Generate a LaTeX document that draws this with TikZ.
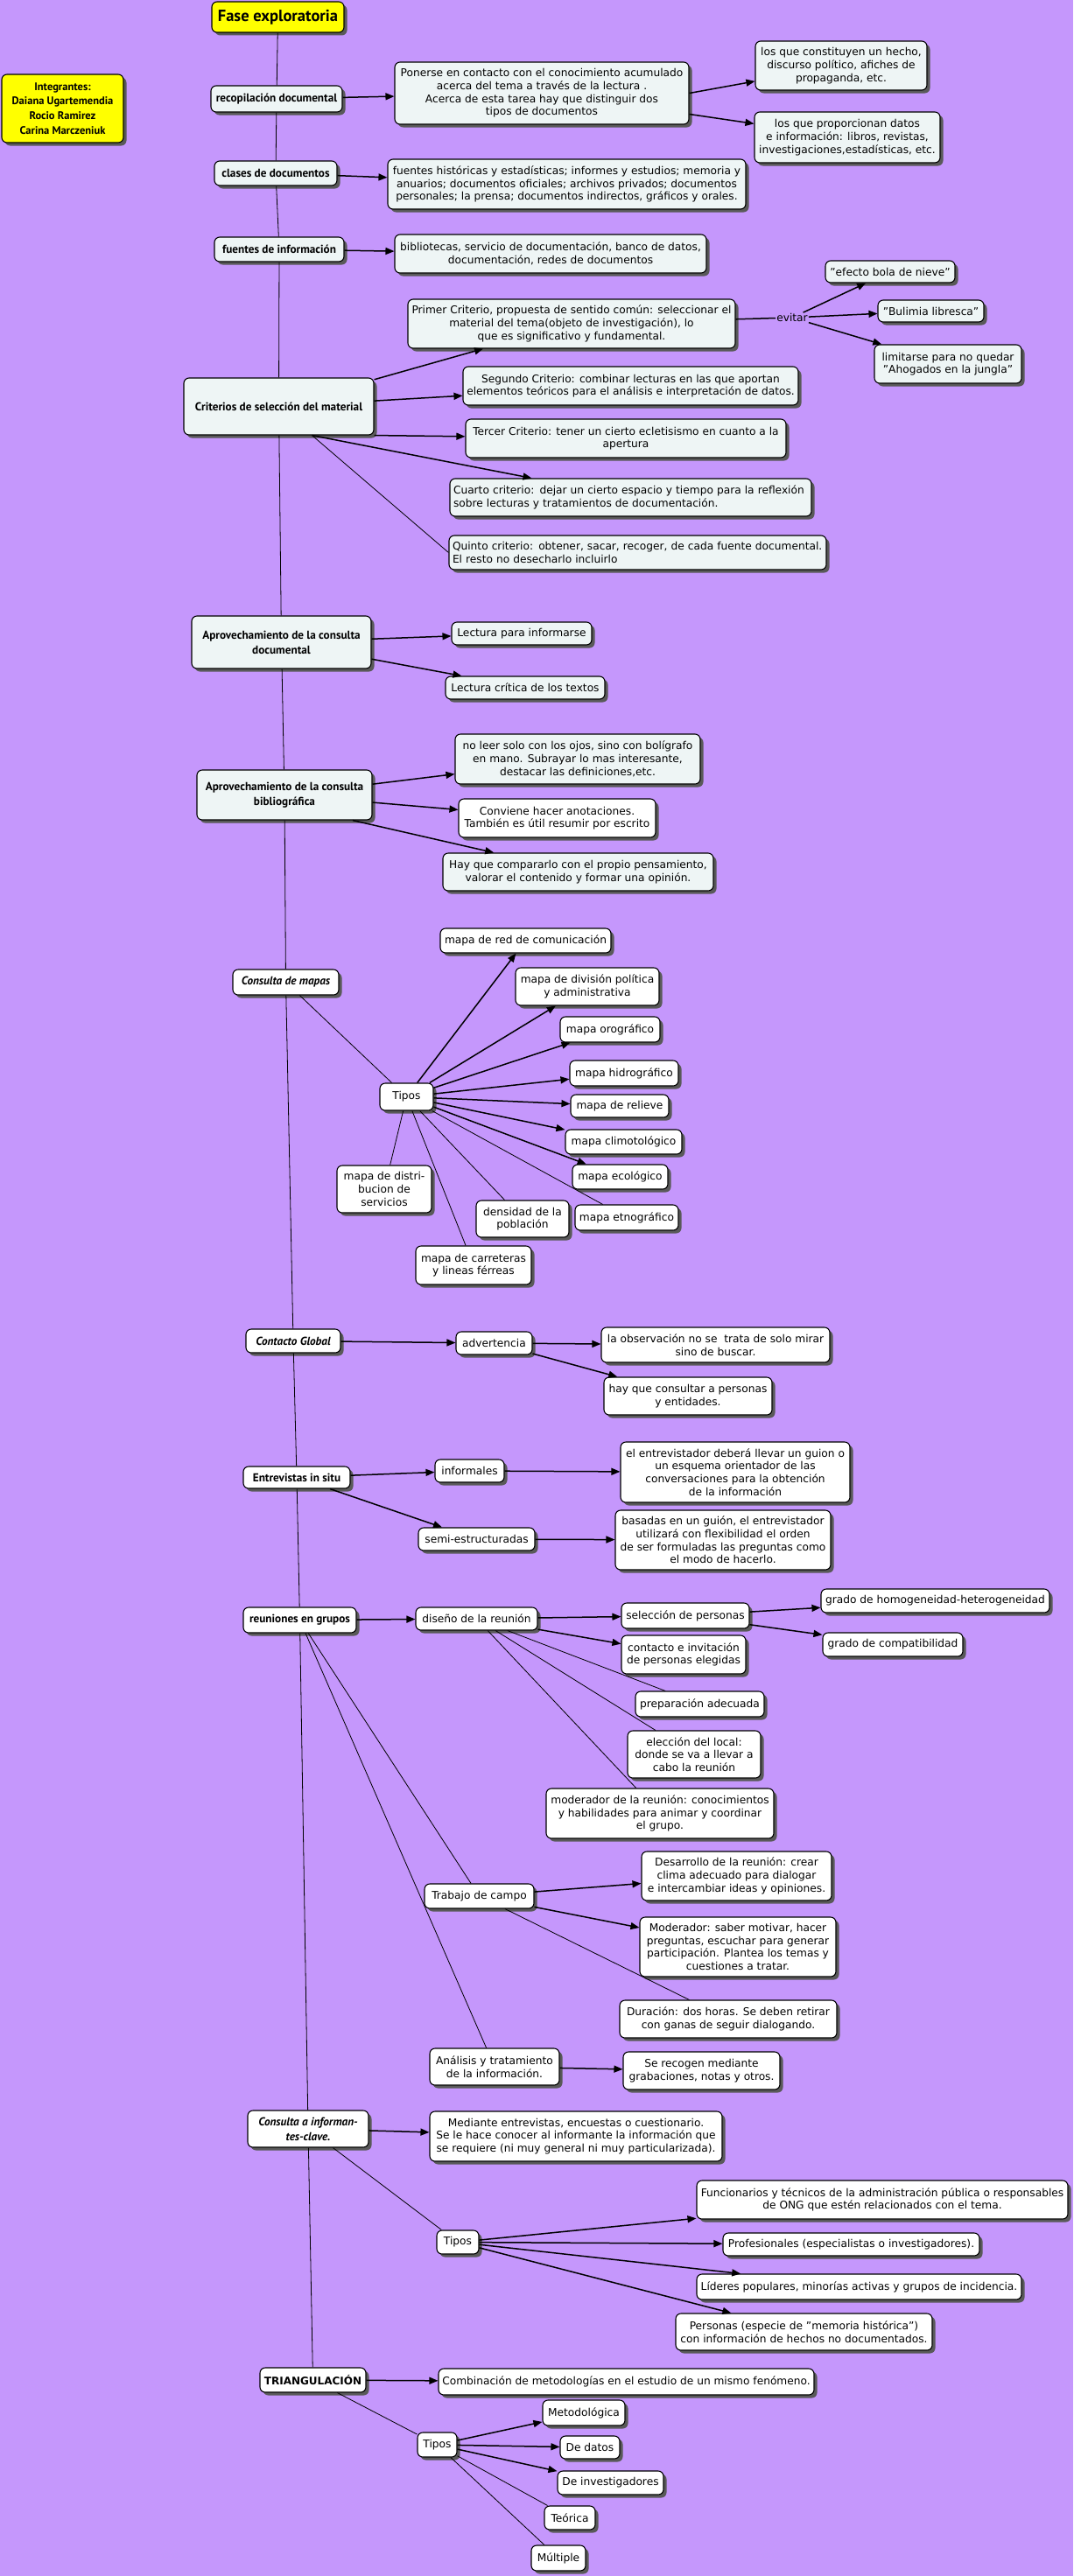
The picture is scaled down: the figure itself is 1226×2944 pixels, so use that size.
\documentclass[tikz,border=0pt]{standalone}
\usepackage{fontspec}
\setmainfont{DejaVu Sans}
\newfontfamily\hdrfont{PT Sans}
\usetikzlibrary{arrows.meta,shadows}
\definecolor{bg}{RGB}{197,151,252}
\definecolor{pale}{RGB}{238,245,245}
\definecolor{yel}{RGB}{255,255,0}
\tikzset{
 base/.style={draw=black, line width=1.1pt, rounded corners=6pt, align=center, inner sep=2pt,
   drop shadow={shadow xshift=3.5pt, shadow yshift=-3.5pt, fill=black!65, opacity=1}},
 bodyf/.style={font=\fontsize{12.2}{14.7}\selectfont},
 cb/.style={base, fill=pale, bodyf},
 cw/.style={base, fill=white, bodyf},
 hb/.style={base, fill=pale, font=\hdrfont\bfseries\fontsize{13.2}{17}\selectfont},
 hw/.style={base, fill=white, font=\hdrfont\bfseries\fontsize{13.2}{17}\selectfont},
 hwi/.style={base, fill=white, font=\hdrfont\bfseries\itshape\fontsize{13.2}{17}\selectfont},
 sz/.style 2 args={minimum width=#1pt, minimum height=#2pt},
 arr/.style={draw=black, line width=1.5pt, -{Triangle[length=10pt,width=8pt]}},
 ln/.style={draw=black, line width=0.8pt},
 lnb/.style={draw=black, line width=1.5pt},
}
\begin{document}
\begin{tikzpicture}[x=1pt,y=-1pt]
\fill[bg] (0,0) rectangle (1226,2944);
\useasboundingbox (0,0) rectangle (1226,2944);

% ---------- header ----------
\node[base, fill=yel, sz={151}{35}, font=\hdrfont\bfseries\fontsize{18.5}{20}\selectfont] (fase) at (317.5,19.5) {Fase exploratoria};
\node[base, fill=yel, sz={139}{78}, font=\hdrfont\bfseries\fontsize{12.5}{16.7}\selectfont] (integ) at (71.5,124) {Integrantes:\\Daiana Ugartemendia\\Rocio Ramirez\\Carina Marczeniuk};

% ---------- recopilación ----------
\node[hb, sz={150}{30}] (recop) at (316,113) {recopilación documental};
\node[cb, sz={336}{71}] (ponerse) at (619,106.5) {Ponerse en contacto con el conocimiento acumulado\\acerca del tema a través de la lectura .\\Acerca de esta tarea hay que distinguir dos\\tipos de documentos};
\node[cb, sz={196}{56}] (constit) at (961,75) {los que constituyen un hecho,\\discurso político, afiches de\\propaganda, etc.};
\node[cb, sz={212}{58}] (proporc) at (968,157) {los que proporcionan datos\\e información: libros, revistas,\\investigaciones,estadísticas, etc.};
\node[hb, sz={140}{28}] (clases) at (315,198) {clases de documentos};
\node[cb, sz={409}{57}] (fhist) at (647.5,210.5) {fuentes históricas y estadísticas; informes y estudios; memoria y\\anuarios; documentos oficiales; archivos privados; documentos\\personales; la prensa; documentos indirectos, gráficos y orales.};
\node[hb, sz={148}{28}] (fuentes) at (319,285) {fuentes de información};
\node[cb, sz={356}{44}] (biblio) at (629,290) {bibliotecas, servicio de documentación, banco de datos,\\documentación, redes de documentos};

% ---------- criterios ----------
\node[hb, sz={217}{65}] (crit) at (318.5,464.5) {Criterios de selección del material};
\node[cb, sz={374}{56}] (primer) at (653,370) {Primer Criterio, propuesta de sentido común: seleccionar el\\material del tema(objeto de investigación), lo\\que es significativo y fundamental.};
\node[bodyf, inner sep=1pt] (evitar) at (905,363) {evitar};
\node[cb, sz={148}{25}] (efecto) at (1017,310.5) {"efecto bola de nieve"};
\node[cb, sz={121}{25}] (bulimia) at (1063.5,355.5) {"Bulimia libresca"};
\node[cb, sz={168}{44}] (limit) at (1083,416) {limitarse para no quedar\\"Ahogados en la jungla"};
\node[cb, sz={383}{44}] (segundo) at (720.5,441) {Segundo Criterio: combinar lecturas en las que aportan\\elementos teóricos para el análisis e interpretación de datos.};
\node[cb, sz={366}{44}] (tercer) at (715,501) {Tercer Criterio: tener un cierto ecletisismo en cuanto a la\\apertura};
\node[cb, sz={413}{43}, text width=405pt, align=left] (cuarto) at (720.5,568.5) {Cuarto criterio: dejar un cierto espacio y tiempo para la reflexión\\sobre lecturas y tratamientos de documentación.};
\node[cb, sz={431}{39}, text width=423pt, align=left] (quinto) at (728.5,631.5) {Quinto criterio: obtener, sacar, recoger, de cada fuente documental.\\El resto no desecharlo incluirlo};

% ---------- aprovechamiento ----------
\node[hb, sz={205}{60}] (adoc) at (321.5,734) {Aprovechamiento de la consulta\\documental};
\node[cb, sz={160}{26}] (lectinf) at (596,724) {Lectura para informarse};
\node[cb, sz={182}{26}] (lectcrit) at (600,786) {Lectura crítica de los textos};
\node[hb, sz={200}{57}] (abib) at (325,908.5) {Aprovechamiento de la consulta\\bibliográfica};
\node[cb, sz={280}{57}] (noleer) at (660,867.5) {no leer solo con los ojos, sino con bolígrafo\\en mano. Subrayar lo mas interesante,\\destacar las definiciones,etc.};
\node[cw, sz={225}{44}] (conviene) at (636.5,935) {Conviene hacer anotaciones.\\También es útil resumir por escrito};
\node[cb, sz={309}{43}] (hayque) at (660.5,996.5) {Hay que compararlo con el propio pensamiento,\\valorar el contenido y formar una opinión.};

% ---------- mapas ----------
\node[hwi, sz={121}{29}] (mapas) at (326.5,1122.5) {Consulta de mapas};
\node[cw, sz={61}{31}] (tipa) at (464.5,1253.5) {Tipos};
\node[cw, sz={195}{28}] (red) at (600.5,1075) {mapa de red de comunicación};
\node[cw, sz={164}{43}] (divis) at (671,1127.5) {mapa de división política\\y administrativa};
\node[cw, sz={114}{29}] (oro) at (697,1176.5) {mapa orográfico};
\node[cw, sz={124}{29}] (hidro) at (713,1226.5) {mapa hidrográfico};
\node[cw, sz={112}{26}] (relieve) at (708,1264) {mapa de relieve};
\node[cw, sz={133}{28}] (clima) at (712.5,1305) {mapa climotológico};
\node[cw, sz={109}{28}] (eco) at (708.5,1345) {mapa ecológico};
\node[cw, sz={118}{29}] (etno) at (716,1391.5) {mapa etnográfico};
\node[cw, sz={108}{54}] (distri) at (439,1359) {mapa de distri-\\bucion de\\servicios};
\node[cw, sz={106}{42}] (dens) at (597,1393) {densidad de la\\población};
\node[cw, sz={132}{44}] (carre) at (541,1446) {mapa de carreteras\\y lineas férreas};

% ---------- contacto / entrevistas ----------
\node[hwi, sz={108}{27}] (contacto) at (335,1532.5) {Contacto Global};
\node[cw, sz={87}{26}] (advert) at (564.5,1535) {advertencia};
\node[cw, sz={261}{40}] (observ) at (817.5,1537) {la observación no se\ \ trata de solo mirar\\sino de buscar.};
\node[cw, sz={192}{43}] (haycons) at (786,1595.5) {hay que consultar a personas\\y entidades.};
\node[hw, sz={122}{25}] (entrev) at (339,1688.5) {Entrevistas in situ};
\node[cw, sz={79}{26}] (inform) at (536.5,1681) {informales};
\node[cw, sz={262}{69}] (elentrev) at (840,1682.5) {el entrevistador deberá llevar un guion o\\un esquema orientador de las\\conversaciones para la obtención\\de la información};
\node[cw, sz={133}{26}] (semi) at (544.5,1759) {semi-estructuradas};
\node[cw, sz={246}{68}] (basadas) at (826,1760) {basadas en un guión, el entrevistador\\utilizará con flexibilidad el orden\\de ser formuladas las preguntas como\\el modo de hacerlo.};

% ---------- reuniones ----------
\node[hw, sz={129}{29}] (reun) at (342.5,1851.5) {reuniones en grupos};
\node[cw, sz={139}{26}] (diseno) at (544.5,1850) {diseño de la reunión};
\node[cw, sz={146}{29}] (selec) at (783,1846.5) {selección de personas};
\node[cw, sz={261}{27}] (homog) at (1068.5,1829.5) {grado de homogeneidad-heterogeneidad};
\node[cw, sz={160}{27}] (compat) at (1020,1879.5) {grado de compatibilidad};
\node[cw, sz={142}{44}] (continv) at (781,1891) {contacto e invitación\\de personas elegidas};
\node[cw, sz={147}{29}] (prep) at (799.5,1947.5) {preparación adecuada};
\node[cw, sz={152}{54}] (local) at (793,2005) {elección del local:\\donde se va a llevar a\\cabo la reunión};
\node[cw, sz={260}{57}] (moder) at (754,2072.5) {moderador de la reunión: conocimientos\\y habilidades para animar y coordinar\\el grupo.};
\node[cw, sz={125}{28}] (trabajo) at (547.5,2167) {Trabajo de campo};
\node[cw, sz={217}{56}] (desarr) at (841.5,2144) {Desarrollo de la reunión: crear\\clima adecuado para dialogar\\e intercambiar ideas y opiniones.};
\node[cw, sz={224}{68}] (moderb) at (843,2225) {Moderador: saber motivar, hacer\\preguntas, escuchar para generar\\participación. Plantea los temas y\\cuestiones a tratar.};
\node[cw, sz={248}{43}] (durac) at (832,2307.5) {Duración: dos horas. Se deben retirar\\con ganas de seguir dialogando.};
\node[cw, sz={148}{42}] (analis) at (565,2362) {Análisis y tratamiento\\de la información.};
\node[cw, sz={179}{43}] (recogen) at (801.5,2366.5) {Se recogen mediante\\grabaciones, notas y otros.};

% ---------- informantes ----------
\node[hwi, sz={138}{42}] (infor) at (352,2433) {Consulta a informan-\\tes-clave.};
\node[cw, sz={334}{57}] (mediante) at (658,2441.5) {Mediante entrevistas, encuestas o cuestionario.\\Se le hace conocer al informante la información que\\se requiere (ni muy general ni muy particularizada).};
\node[cw, sz={48}{27}] (tipb) at (523,2562.5) {Tipos};
\node[cw, sz={424}{44}] (funcion) at (1008,2514) {Funcionarios y técnicos de la administración pública o responsables\\de ONG que estén relacionados con el tema.};
\node[cw, sz={293}{26}] (profes) at (972.5,2565) {Profesionales (especialistas o investigadores).};
\node[cw, sz={371}{29}] (lideres) at (981.5,2613.5) {Líderes populares, minorías activas y grupos de incidencia.};
\node[cw, sz={293}{42}] (personas) at (918.5,2665) {Personas (especie de "memoria histórica")\\con información de hechos no documentados.};

% ---------- triangulación ----------
\node[base, fill=white, sz={121}{28}, font=\bfseries\fontsize{12}{14}\selectfont] (triang) at (357.5,2720) {TRIANGULACIÓN};
\node[cw, sz={429}{30}] (combin) at (715.5,2722) {Combinación de metodologías en el estudio de un mismo fenómeno.};
\node[cw, sz={45}{28}] (tipc) at (499.5,2794) {Tipos};
\node[cw, sz={94}{29}] (metod) at (667,2757.5) {Metodológica};
\node[cw, sz={68}{26}] (datos) at (674,2797) {De datos};
\node[cw, sz={121}{27}] (invest) at (697.5,2837.5) {De investigadores};
\node[cw, sz={58}{27}] (teor) at (651,2877.5) {Teórica};
\node[cw, sz={62}{29}] (multi) at (638,2923.5) {Múltiple};

% ---------- spine ----------
\draw[ln] (fase) -- (recop);
\draw[ln] (recop) -- (clases);
\draw[ln] (clases) -- (fuentes);
\draw[ln] (fuentes) -- (crit);
\draw[ln] (crit) -- (adoc);
\draw[ln] (adoc) -- (abib);
\draw[ln] (abib) -- (mapas);
\draw[ln] (mapas) -- (contacto);
\draw[ln] (contacto) -- (entrev);
\draw[ln] (entrev) -- (reun);
\draw[ln] (reun) -- (infor);
\draw[ln] (infor) -- (triang);

% ---------- connectors ----------
\draw[arr] (recop) -- (ponerse);
\draw[arr] (ponerse.east) -- (constit);
\draw[arr] ([yshift=-24pt]ponerse.east) -- (proporc);
\draw[arr] (clases) -- (fhist);
\draw[arr] (fuentes) -- (biblio);

\draw[arr] (crit) -- (primer);
\draw[arr] (crit) -- (segundo);
\draw[arr] (crit.south east) -- (tercer);
\draw[arr] ([xshift=38pt]crit.south) -- (cuarto);
\draw[ln] ([xshift=38pt]crit.south) -- (quinto.west);
\draw[lnb] (primer) -- (evitar);
\draw[arr] (evitar) -- (efecto);
\draw[arr] (evitar) -- (bulimia);
\draw[arr] (evitar) -- (limit);

\draw[arr] (adoc) -- (lectinf);
\draw[arr] (adoc) -- (lectcrit);
\draw[arr] (abib) -- (noleer);
\draw[arr] (abib) -- (conviene);
\draw[arr] ([xshift=78pt]abib.south) -- (hayque);

\draw[ln] (mapas) -- (tipa);
\draw[arr] (tipa) -- (red);
\draw[arr] (tipa) -- (divis);
\draw[arr] (tipa) -- (oro);
\draw[arr] (tipa) -- (hidro);
\draw[arr] (tipa) -- (relieve);
\draw[arr] (tipa) -- (clima);
\draw[arr] (tipa) -- (eco);
\draw[ln] (tipa) -- (etno);
\draw[ln] (tipa) -- (dens);
\draw[ln] (tipa) -- (carre);
\draw[ln] (tipa) -- (distri);

\draw[arr] (contacto) -- (advert);
\draw[arr] (advert) -- (observ);
\draw[arr] (advert) -- (haycons);
\draw[arr] (entrev) -- (inform);
\draw[arr] (inform) -- (elentrev);
\draw[arr] (entrev) -- (semi);
\draw[arr] (semi) -- (basadas);

\draw[arr] (reun) -- (diseno);
\draw[arr] (diseno) -- (selec);
\draw[arr] (selec) -- (homog);
\draw[arr] (selec) -- (compat);
\draw[arr] (diseno) -- (continv);
\draw[ln] (diseno) -- (prep);
\draw[ln] (diseno) -- (local);
\draw[ln] (diseno) -- (moder);
\draw[ln] (reun) -- (trabajo);
\draw[ln] (reun) -- (analis);
\draw[arr] (trabajo) -- (desarr);
\draw[arr] (trabajo) -- (moderb);
\draw[ln] (trabajo) -- (durac);
\draw[arr] (analis) -- (recogen);

\draw[arr] (infor) -- (mediante);
\draw[ln] (infor) -- (tipb);
\draw[arr] (tipb) -- (funcion);
\draw[arr] (tipb) -- (profes);
\draw[arr] (tipb) -- (lideres);
\draw[arr] (tipb) -- (personas);

\draw[arr] (triang) -- (combin);
\draw[ln] (triang) -- (tipc);
\draw[arr] (tipc) -- (metod);
\draw[arr] (tipc) -- (datos);
\draw[arr] (tipc) -- (invest);
\draw[ln] (tipc) -- (teor);
\draw[ln] (tipc) -- (multi);
\end{tikzpicture}
\end{document}
